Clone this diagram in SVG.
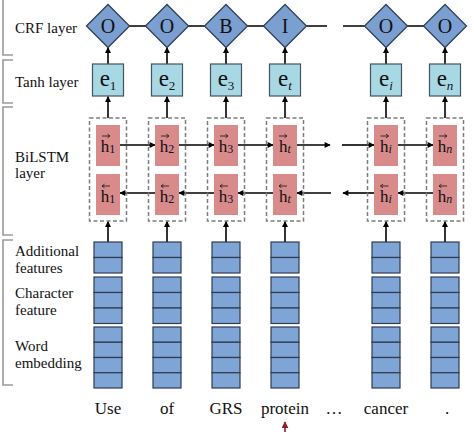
<svg xmlns="http://www.w3.org/2000/svg" xmlns:xlink="http://www.w3.org/1999/xlink" width="474" height="436" viewBox="0 0 474 436" font-family="'Liberation Serif', 'DejaVu Serif', serif">
<style>
text{font-family:'Liberation Serif','DejaVu Serif',serif;fill:#111}
.lab{font-size:15px}
.word{font-size:17px;text-anchor:middle}
.dia{fill:#7b9fd0;stroke:#2f4058;stroke-width:1.3}
.dtx{font-size:20px;text-anchor:middle}
.ebox{fill:#a9d8e5;stroke:#44545f;stroke-width:1.2}
.etx{font-size:23px;text-anchor:middle}
.sub{font-size:13px}
.hsub{font-size:12px}
.hbox{fill:#d98b8c}
.dash{fill:none;stroke:#7c7c7c;stroke-width:1.5;stroke-dasharray:4 2.5}
.htx{font-size:17px;text-anchor:middle}
.cell{fill:#7fa4d6;stroke:#2d3c52;stroke-width:1.2}
.arr{fill:none;stroke:#000;stroke-width:1.6;marker-end:url(#ah)}
.ln{fill:none;stroke:#000;stroke-width:1.4}
.brk{fill:none;stroke:#9a9a9a;stroke-width:1.6}
.vec{fill:none;stroke:#222;stroke-width:0.9}
</style>
<defs>
<marker id="ah" viewBox="0 0 10 10" refX="9" refY="5" markerWidth="7" markerHeight="6" markerUnits="userSpaceOnUse" orient="auto">
<path d="M0,0 L10,5 L0,10 z" fill="#000"/>
</marker>
<marker id="ahr" viewBox="0 0 10 10" refX="9" refY="5" markerWidth="7" markerHeight="7" markerUnits="userSpaceOnUse" orient="auto">
<path d="M0,0 L10,5 L0,10 z" fill="#8b2222"/>
</marker>
<g id="stack">
<rect class="cell" x="0" y="242" width="28" height="15.5"/>
<rect class="cell" x="0" y="257.5" width="28" height="15.5"/>
<rect class="cell" x="0" y="277" width="28" height="15.5"/>
<rect class="cell" x="0" y="292.5" width="28" height="15.5"/>
<rect class="cell" x="0" y="308" width="28" height="15.5"/>
<rect class="cell" x="0" y="327" width="28" height="15.25"/>
<rect class="cell" x="0" y="342.25" width="28" height="15.25"/>
<rect class="cell" x="0" y="357.5" width="28" height="15.25"/>
<rect class="cell" x="0" y="372.75" width="28" height="15.25"/>
</g>
<g id="vr"><path class="vec" d="M-4,0 H4 M1.5,-1.8 L4,0 L1.5,1.8"/></g>
<g id="vl"><path class="vec" d="M4,0 H-4 M-1.5,-1.8 L-4,0 L-1.5,1.8"/></g>
<g id="bilstm">
<rect class="dash" x="-18.5" y="118" width="37" height="103"/>
<rect class="hbox" x="-12" y="125" width="24" height="41"/>
<rect class="hbox" x="-12" y="174" width="24" height="41"/>
</g>
</defs>

<g id="brackets">
<path class="brk" d="M13,-1 H3 V55 H13"/>
<path class="brk" d="M13,60 H3 V103 H13"/>
<path class="brk" d="M13,107 H3 V235 H13"/>
<path class="brk" d="M13,240 H3 V385 H13"/>
</g>

<g id="layer-labels">
<text class="lab" x="15" y="33">CRF layer</text>
<text class="lab" x="15" y="87">Tanh layer</text>
<text class="lab" x="15" y="162">BiLSTM</text>
<text class="lab" x="15" y="178">layer</text>
<text class="lab" x="15" y="256">Additional</text>
<text class="lab" x="15" y="273">features</text>
<text class="lab" x="15" y="298">Character</text>
<text class="lab" x="15" y="315">feature</text>
<text class="lab" x="15" y="351">Word</text>
<text class="lab" x="15" y="368">embedding</text>
</g>

<g id="connectors">
<path class="arr" d="M108,242 V221.5"/><path class="arr" d="M167,242 V221.5"/><path class="arr" d="M226,242 V221.5"/>
<path class="arr" d="M285,242 V221.5"/><path class="arr" d="M386,242 V221.5"/><path class="arr" d="M445,242 V221.5"/>
<path class="arr" d="M108,118 V96.5"/><path class="arr" d="M167,118 V96.5"/><path class="arr" d="M226,118 V96.5"/>
<path class="arr" d="M285,118 V96.5"/><path class="arr" d="M386,118 V96.5"/><path class="arr" d="M445,118 V96.5"/>
<path class="arr" d="M108,64 V47.5"/><path class="arr" d="M167,64 V47.5"/><path class="arr" d="M226,64 V47.5"/>
<path class="arr" d="M285,64 V47.5"/><path class="arr" d="M386,64 V47.5"/><path class="arr" d="M445,64 V47.5"/>
<path class="arr" d="M120,145 H155"/>
<path class="arr" d="M179,145 H214"/>
<path class="arr" d="M238,145 H273"/>
<path class="arr" d="M297,145 H330"/>
<path class="arr" d="M342,145 H374"/>
<path class="arr" d="M398,145 H433"/>
<path class="arr" d="M155,193 H120"/>
<path class="arr" d="M214,193 H179"/>
<path class="arr" d="M273,193 H238"/>
<path class="arr" d="M331,193 H297"/>
<path class="arr" d="M374,193 H343"/>
<path class="arr" d="M433,193 H398"/>
<path class="ln" d="M129,26 H146 M188,26 H205 M247,26 H264 M306,26 H327 M343,26 H365 M407,26 H424"/>
<path fill="none" stroke="#8b2222" stroke-width="1.6" marker-end="url(#ahr)" d="M285,432 V422"/>
</g>

<g id="crf">
<g id="crf-1"><polygon class="dia" points="86.5,26 108,4.5 129.5,26 108,47.5"/><text class="dtx" x="108" y="33">O</text></g>
<g id="crf-2"><polygon class="dia" points="145.5,26 167,4.5 188.5,26 167,47.5"/><text class="dtx" x="167" y="33">O</text></g>
<g id="crf-3"><polygon class="dia" points="204.5,26 226,4.5 247.5,26 226,47.5"/><text class="dtx" x="226" y="33">B</text></g>
<g id="crf-4"><polygon class="dia" points="263.5,26 285,4.5 306.5,26 285,47.5"/><text class="dtx" x="285" y="33">I</text></g>
<g id="crf-5"><polygon class="dia" points="364.5,26 386,4.5 407.5,26 386,47.5"/><text class="dtx" x="386" y="33">O</text></g>
<g id="crf-6"><polygon class="dia" points="423.5,26 445,4.5 466.5,26 445,47.5"/><text class="dtx" x="445" y="33">O</text></g>
</g>

<g id="tanh">
<g id="e-1"><rect class="ebox" x="92.5" y="64" width="31" height="32"/><text class="etx" x="108" y="86">e<tspan class="sub" dy="4">1</tspan></text></g>
<g id="e-2"><rect class="ebox" x="151.5" y="64" width="31" height="32"/><text class="etx" x="167" y="86">e<tspan class="sub" dy="4">2</tspan></text></g>
<g id="e-3"><rect class="ebox" x="210.5" y="64" width="31" height="32"/><text class="etx" x="226" y="86">e<tspan class="sub" dy="4">3</tspan></text></g>
<g id="e-t"><rect class="ebox" x="269.5" y="64" width="31" height="32"/><text class="etx" x="285" y="86">e<tspan class="sub" dy="4" font-style="italic">t</tspan></text></g>
<g id="e-i"><rect class="ebox" x="370.5" y="64" width="31" height="32"/><text class="etx" x="386" y="86">e<tspan class="sub" dy="4" font-style="italic">i</tspan></text></g>
<g id="e-n"><rect class="ebox" x="429.5" y="64" width="31" height="32"/><text class="etx" x="445" y="86">e<tspan class="sub" dy="4" font-style="italic">n</tspan></text></g>
</g>

<g id="bilstm-layer">
<g id="h-1"><use xlink:href="#bilstm" href="#bilstm" x="108" y="0"/>
<text class="htx" x="108" y="152">h<tspan class="hsub" dy="1">1</tspan></text><use href="#vr" xlink:href="#vr" x="106" y="136"/>
<text class="htx" x="108" y="202">h<tspan class="hsub" dy="1">1</tspan></text><use href="#vl" xlink:href="#vl" x="106" y="186"/></g>
<g id="h-2"><use xlink:href="#bilstm" href="#bilstm" x="167" y="0"/>
<text class="htx" x="167" y="152">h<tspan class="hsub" dy="1">2</tspan></text><use href="#vr" xlink:href="#vr" x="165" y="136"/>
<text class="htx" x="167" y="202">h<tspan class="hsub" dy="1">2</tspan></text><use href="#vl" xlink:href="#vl" x="165" y="186"/></g>
<g id="h-3"><use xlink:href="#bilstm" href="#bilstm" x="226" y="0"/>
<text class="htx" x="226" y="152">h<tspan class="hsub" dy="1">3</tspan></text><use href="#vr" xlink:href="#vr" x="224" y="136"/>
<text class="htx" x="226" y="202">h<tspan class="hsub" dy="1">3</tspan></text><use href="#vl" xlink:href="#vl" x="224" y="186"/></g>
<g id="h-t"><use xlink:href="#bilstm" href="#bilstm" x="285" y="0"/>
<text class="htx" x="285" y="152">h<tspan class="hsub" dy="1" font-style="italic">t</tspan></text><use href="#vr" xlink:href="#vr" x="283" y="136"/>
<text class="htx" x="285" y="202">h<tspan class="hsub" dy="1" font-style="italic">t</tspan></text><use href="#vl" xlink:href="#vl" x="283" y="186"/></g>
<g id="h-i"><use xlink:href="#bilstm" href="#bilstm" x="386" y="0"/>
<text class="htx" x="386" y="152">h<tspan class="hsub" dy="1" font-style="italic">i</tspan></text><use href="#vr" xlink:href="#vr" x="384.5" y="136"/>
<text class="htx" x="386" y="202">h<tspan class="hsub" dy="1" font-style="italic">i</tspan></text><use href="#vl" xlink:href="#vl" x="384.5" y="186"/></g>
<g id="h-n"><use xlink:href="#bilstm" href="#bilstm" x="445" y="0"/>
<text class="htx" x="445" y="152">h<tspan class="hsub" dy="1" font-style="italic">n</tspan></text><use href="#vr" xlink:href="#vr" x="443" y="136"/>
<text class="htx" x="445" y="202">h<tspan class="hsub" dy="1" font-style="italic">n</tspan></text><use href="#vl" xlink:href="#vl" x="443" y="186"/></g>
</g>

<g id="inputs">
<g id="in-1"><use href="#stack" xlink:href="#stack" x="94"/><text class="word" x="108" y="414">Use</text></g>
<g id="in-2"><use href="#stack" xlink:href="#stack" x="153"/><text class="word" x="167" y="414">of</text></g>
<g id="in-3"><use href="#stack" xlink:href="#stack" x="212"/><text class="word" x="226" y="414">GRS</text></g>
<g id="in-4"><use href="#stack" xlink:href="#stack" x="271"/><text class="word" x="285" y="414">protein</text></g>
<g id="in-gap"><text class="word" x="334" y="414">…</text></g>
<g id="in-5"><use href="#stack" xlink:href="#stack" x="372"/><text class="word" x="386" y="414">cancer</text></g>
<g id="in-6"><use href="#stack" xlink:href="#stack" x="431"/><text class="word" x="447" y="414">.</text></g>
</g>
</svg>
